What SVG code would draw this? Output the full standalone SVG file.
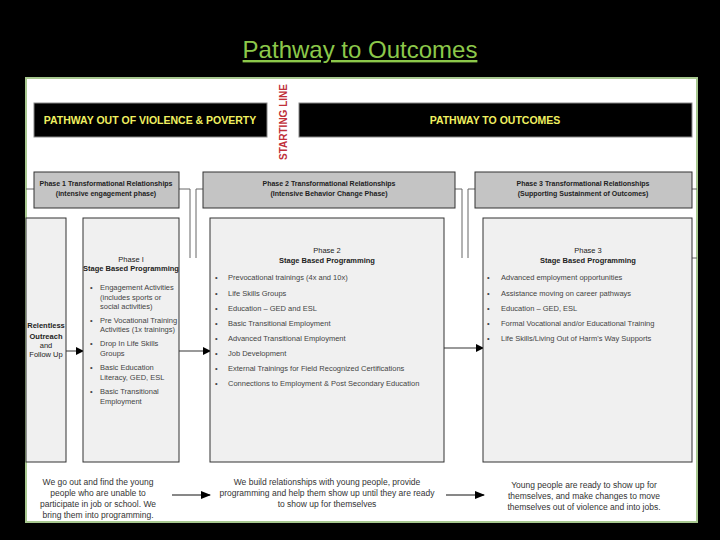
<svg xmlns="http://www.w3.org/2000/svg" width="720" height="540" viewBox="0 0 720 540">
<style>
text{font-family:"Liberation Sans",Arial,sans-serif}
.hdr{fill:#000;stroke:#888;stroke-width:1}
.ht{fill:#f0f060;font-size:10.5px;font-weight:bold;text-anchor:middle}
.ph{fill:#c4c4c4;stroke:#333;stroke-width:1}
.pt{font-size:7px;font-weight:bold;text-anchor:middle;fill:#222}
.box{fill:#f0f0f0;stroke:#333;stroke-width:1}
.bt{font-size:7.5px;fill:#444}
.bh{font-size:7.5px;text-anchor:middle;fill:#222}
.bot{font-size:8.5px;text-anchor:middle;fill:#333}
.ln{stroke:#666;stroke-width:1;fill:none}
.ar{stroke:#777;stroke-width:1.5;fill:none;marker-end:url(#ah)}
.ab{stroke:#111;stroke-width:1;fill:none;marker-end:url(#ah2)}
</style>
<defs>
<marker id="ah" markerWidth="8" markerHeight="8" refX="7" refY="4" orient="auto" markerUnits="userSpaceOnUse"><path d="M0,0 L8,4 L0,8Z" fill="#000"/></marker>
<marker id="ah2" markerWidth="10" markerHeight="8" refX="9" refY="4" orient="auto" markerUnits="userSpaceOnUse"><path d="M0,0 L10,4 L0,8Z" fill="#000"/></marker>
</defs>
<rect width="720" height="540" fill="#000"/>
<text x="360" y="58" font-size="24" fill="#8cc84a" text-anchor="middle" text-decoration="underline">Pathway to Outcomes</text>
<rect x="26" y="78" width="671" height="444" fill="#fff" stroke="#a8c890" stroke-width="2"/>
<g id="hdr1"><rect class="hdr" x="34" y="103" width="233" height="34"/><text class="ht" x="150" y="124">PATHWAY OUT OF VIOLENCE &amp; POVERTY</text></g>
<g id="hdr2"><rect class="hdr" x="299" y="103" width="393" height="34"/><text class="ht" x="495" y="124">PATHWAY TO OUTCOMES</text></g>
<g id="start"><text transform="translate(287,122) rotate(-90)" font-size="10" font-weight="bold" fill="#c0303a" text-anchor="middle">STARTING LINE</text></g>
<g id="connectors">
<path class="ln" d="M26,189 H34 M179,189 H190 V258 M196,258 V189 H203 M455,189 H462 V258 M468,258 V189 H475 M692,189 H697"/>
<path class="ar" d="M66,351 H83"/>
<path class="ar" d="M179,351 H210"/>
<path class="ar" d="M444,348 H483"/>
<path class="ln" d="M697,258 H684"/>
<path class="ab" d="M172,495 H210"/>
<path class="ab" d="M446,495 H484"/>
</g>
<g id="ph1"><rect class="ph" x="34" y="172" width="145" height="36"/><text class="pt" x="106" y="186">Phase 1 Transformational Relationships</text><text class="pt" x="106" y="196" font-weight="normal">(intensive engagement phase)</text></g>
<g id="ph2"><rect class="ph" x="203" y="172" width="252" height="36"/><text class="pt" x="329" y="186">Phase 2 Transformational Relationships</text><text class="pt" x="329" y="196" font-weight="normal">(Intensive Behavior Change Phase)</text></g>
<g id="ph3"><rect class="ph" x="475" y="172" width="217" height="36"/><text class="pt" x="583" y="186">Phase 3 Transformational Relationships</text><text class="pt" x="583" y="196" font-weight="normal">(Supporting Sustainment of Outcomes)</text></g>
<g id="outreach"><rect class="box" x="26" y="218" width="40" height="244"/>
<text class="bh" x="46" y="328" font-weight="bold">Relentless</text><text class="bh" x="46" y="339" font-weight="bold">Outreach</text><text class="bh" x="46" y="348">and</text><text class="bh" x="46" y="357">Follow Up</text></g>
<g id="box1"><rect class="box" x="83" y="218" width="96" height="244"/>
<text class="bh" x="131" y="262">Phase I</text><text class="bh" x="131" y="271" font-weight="bold">Stage Based Programming</text>
<g class="bt"><text x="90" y="290">•</text><text x="100" y="290">Engagement Activities</text><text x="100" y="300">(includes sports or</text><text x="100" y="309">social activities)</text>
<text x="90" y="323">•</text><text x="100" y="323">Pre Vocational Training</text><text x="100" y="332">Activities (1x trainings)</text>
<text x="90" y="346">•</text><text x="100" y="346">Drop In Life Skills</text><text x="100" y="356">Groups</text>
<text x="90" y="370">•</text><text x="100" y="370">Basic Education</text><text x="100" y="380">Literacy, GED, ESL</text>
<text x="90" y="394">•</text><text x="100" y="394">Basic Transitional</text><text x="100" y="404">Employment</text></g></g>
<g id="box2"><rect class="box" x="210" y="218" width="234" height="244"/>
<text class="bh" x="327" y="253">Phase 2</text><text class="bh" x="327" y="263" font-weight="bold">Stage Based Programming</text>
<g class="bt"><text x="215" y="280">•</text><text x="228" y="280">Prevocational trainings (4x and 10x)</text>
<text x="215" y="296">•</text><text x="228" y="296">Life Skills Groups</text>
<text x="215" y="311">•</text><text x="228" y="311">Education – GED and ESL</text>
<text x="215" y="326">•</text><text x="228" y="326">Basic Transitional Employment</text>
<text x="215" y="341">•</text><text x="228" y="341">Advanced Transitional Employment</text>
<text x="215" y="356">•</text><text x="228" y="356">Job Development</text>
<text x="215" y="371">•</text><text x="228" y="371">External Trainings for Field Recognized Certifications</text>
<text x="215" y="386">•</text><text x="228" y="386">Connections to Employment &amp; Post Secondary Education</text></g></g>
<g id="box3"><rect class="box" x="483" y="218" width="209" height="244"/>
<text class="bh" x="588" y="253">Phase 3</text><text class="bh" x="588" y="263" font-weight="bold">Stage Based Programming</text>
<g class="bt"><text x="487" y="280">•</text><text x="501" y="280">Advanced employment opportunities</text>
<text x="487" y="296">•</text><text x="501" y="296">Assistance moving on career pathways</text>
<text x="487" y="311">•</text><text x="501" y="311">Education – GED, ESL</text>
<text x="487" y="326">•</text><text x="501" y="326">Formal Vocational and/or Educational Training</text>
<text x="487" y="341">•</text><text x="501" y="341">Life Skills/Living Out of Harm's Way Supports</text></g></g>
<g id="bottom">
<text class="bot" x="98" y="485">We go out and find the young</text><text class="bot" x="98" y="496">people who are unable to</text><text class="bot" x="98" y="507">participate in job or school.  We</text><text class="bot" x="98" y="518">bring them into programming.</text>
<text class="bot" x="327" y="485">We build relationships with young people, provide</text><text class="bot" x="327" y="496">programming and help them show up until they are ready</text><text class="bot" x="327" y="507">to show up for themselves</text>
<text class="bot" x="584" y="488">Young people are ready to show up for</text><text class="bot" x="584" y="499">themselves, and make changes to move</text><text class="bot" x="584" y="510">themselves out of violence and into jobs.</text>
</g>
</svg>
